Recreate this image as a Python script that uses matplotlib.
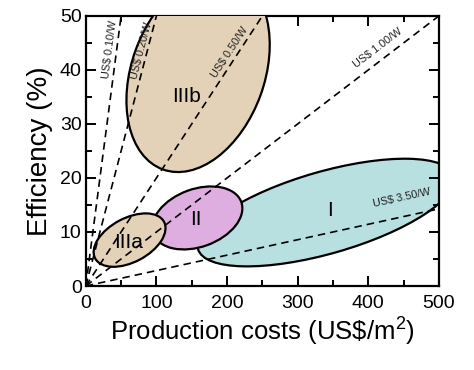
import numpy as np
import matplotlib
matplotlib.use("Agg")
import matplotlib.pyplot as plt
from matplotlib.patches import Ellipse
from matplotlib.transforms import ScaledTranslation

plt.rcParams['font.family'] = ['Liberation Sans', 'DejaVu Sans']
plt.rcParams['mathtext.fontset'] = 'custom'
plt.rcParams['mathtext.rm'] = 'Liberation Sans'
plt.rcParams['mathtext.it'] = 'Liberation Sans:italic'

# cost lines (US$/W)
prices = [0.10, 0.20, 0.50, 1.00, 3.50]
price_labels = ['US$ 0.10/W', 'US$ 0.20/W', 'US$ 0.50/W', 'US$ 1.00/W', 'US$ 3.50/W']
price_label_x = [34, 79, 203, 414, 448]
price_label_y = [43.7, 43.5, 43.3, 44.0, 16.4]

# regions: centre in data units, semi axes (inches) and tilt
regions = ['I', 'II', 'IIIa', 'IIIb']
reg_cx = [340, 158, 62, 159]
reg_cy = [13.6, 12.6, 8.5, 39.5]
reg_a = [1.33, 0.467, 0.39, 1.03]
reg_b = [0.41, 0.289, 0.22, 0.664]
reg_ang = [16, 20, 28, 70]
reg_colors = ['#b9e0e1', '#dfaee0', '#e4d2b8', '#e4d2b8']
label_x = [346, 156, 60, 142]
label_y = [14.0, 12.3, 8.0, 35.0]

fig = plt.figure(figsize=(4.74, 3.7), dpi=100)
ax = fig.add_axes([0.181, 0.227, 0.745, 0.730])
ax.set_xlim(0, 500)
ax.set_ylim(0, 50)

for i, name in enumerate(regions):
    tr = fig.dpi_scale_trans + ScaledTranslation(reg_cx[i], reg_cy[i], ax.transData)
    e = Ellipse((0, 0), 2 * reg_a[i], 2 * reg_b[i], angle=reg_ang[i],
                transform=tr, facecolor=reg_colors[i], edgecolor='black',
                lw=1.6, zorder=1 + i)
    ax.add_patch(e)
    ax.text(label_x[i], label_y[i], name, fontsize=15, ha='center', va='center',
            zorder=10)

x = np.array([0, 500])
for p, lab, lx, ly in zip(prices, price_labels, price_label_x, price_label_y):
    eff = x / (10 * p)
    ax.plot(x, eff, color='black', lw=1.2, dashes=(4.5, 3), zorder=6)
    ang = np.degrees(np.arctan(1 / (10 * p)))
    ax.text(lx, ly, lab, fontsize=7.8, rotation=ang, transform_rotates_text=True,
            rotation_mode='anchor', ha='center', va='center', color='#222222',
            zorder=10)

ax.set_xlim(0, 500)
ax.set_ylim(0, 50)
ax.set_xticks([0, 100, 200, 300, 400, 500])
ax.set_xticks(np.arange(50, 500, 100), minor=True)
ax.set_yticks([0, 10, 20, 30, 40, 50])
ax.set_yticks(np.arange(5, 50, 10), minor=True)
ax.tick_params(which='both', direction='in', top=True, right=True, width=1.4,
               labelsize=14)
ax.tick_params(which='major', length=7)
ax.tick_params(which='minor', length=4.5)
ax.tick_params(axis='x', pad=6.5)
ax.tick_params(axis='y', pad=3)
for s in ax.spines.values():
    s.set_linewidth(1.6)

ax.set_xlabel(r'Production costs (US\$/m$^2$)', fontsize=18.5, labelpad=3)
ax.set_ylabel('Efficiency (%)', fontsize=20, labelpad=5)

fig.savefig('out.png', dpi=100)
